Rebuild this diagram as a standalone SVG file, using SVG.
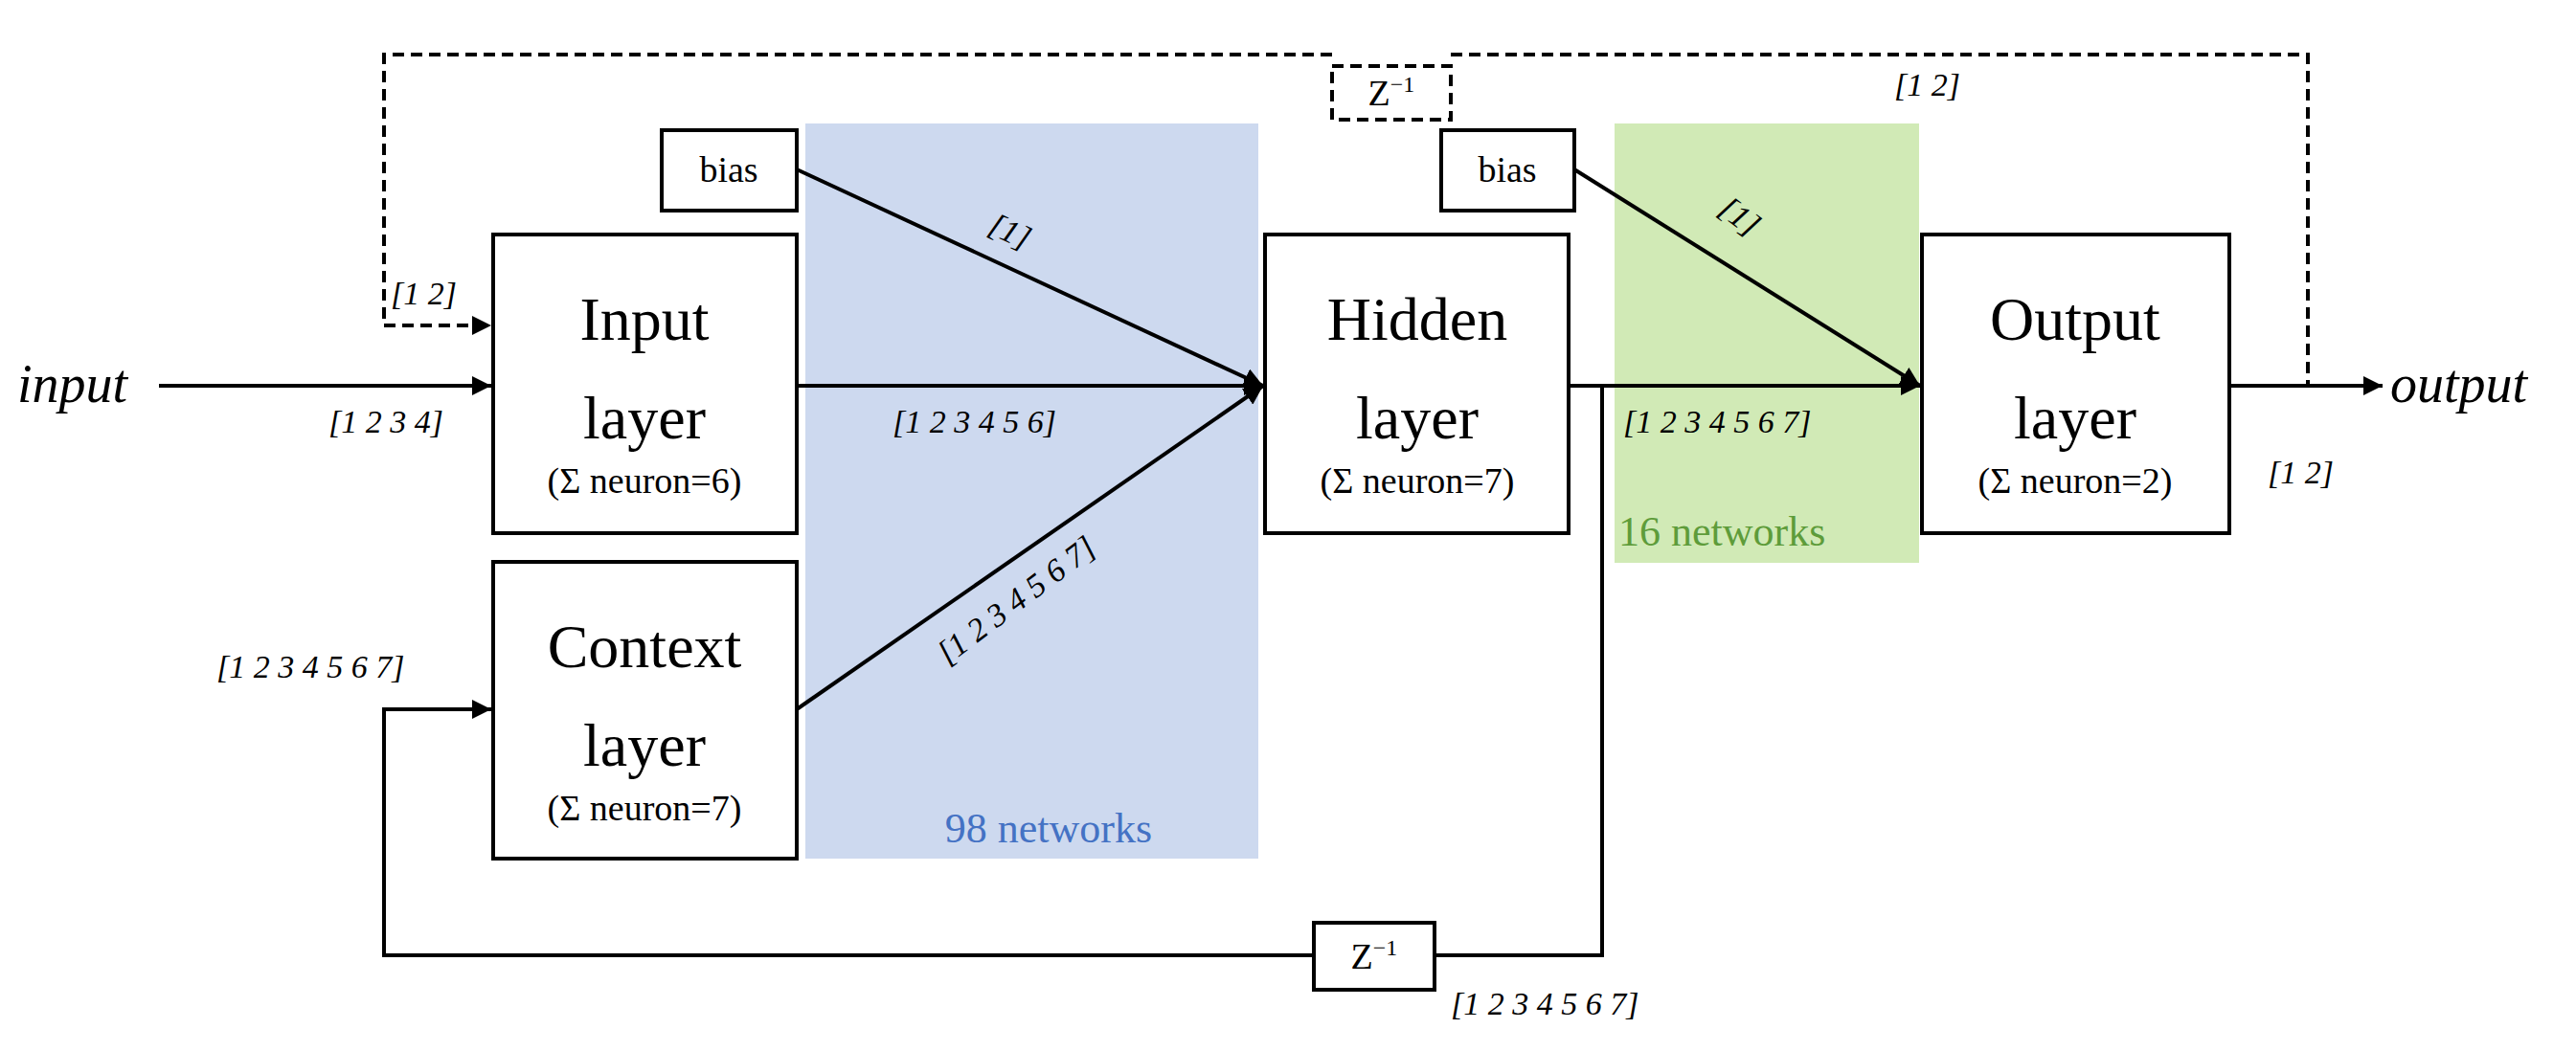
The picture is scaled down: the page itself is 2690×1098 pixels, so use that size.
<svg xmlns="http://www.w3.org/2000/svg" width="2690" height="1098" viewBox="0 0 2690 1098">
<style>
.b{fill:#fff;stroke:#000;stroke-width:4}
.t{font-family:"Liberation Serif",serif;fill:#000;text-anchor:middle}
.big{font-size:64px}
.sm{font-size:38px}
.lb{font-family:"Liberation Serif",serif;font-style:italic;font-size:34px;fill:#000}
.ln{fill:none;stroke:#000;stroke-width:4}
.d{stroke-dasharray:12 7}
</style>
<defs>
<marker id="a" viewBox="0 0 10 10" refX="10" refY="5" markerWidth="5" markerHeight="5" orient="auto" markerUnits="strokeWidth"><path d="M0,0L10,5L0,10z" fill="#000"/></marker>
</defs>
<rect x="841" y="129" width="473" height="768" fill="#CDD9EF"/>
<rect x="1686" y="129" width="318" height="459" fill="#D1EAB6"/>
<text x="1095" y="880" font-family="Liberation Serif,serif" font-size="44" fill="#4472C4" text-anchor="middle">98 networks</text>
<text x="1690" y="570" font-family="Liberation Serif,serif" font-size="44" fill="#5E9C3A">16 networks</text>
<g id="connectors">
<path class="ln d" d="M1391,57H401V340H513" marker-end="url(#a)"/>
<path class="ln d" d="M1515,57H2410V403"/>
<path class="ln" d="M166,403H513" marker-end="url(#a)"/>
<path class="ln" d="M832,403H1319" marker-end="url(#a)"/>
<path class="ln" d="M832,177L1319,403" marker-end="url(#a)"/>
<path class="ln" d="M832,741L1319,403" marker-end="url(#a)"/>
<path class="ln" d="M1638,403H2005" marker-end="url(#a)"/>
<path class="ln" d="M1644,177L2005,403" marker-end="url(#a)"/>
<path class="ln" d="M2328,403H2488" marker-end="url(#a)"/>
<path class="ln" d="M1673,403V998H1498"/>
<path class="ln" d="M1372,998H401V741H513" marker-end="url(#a)"/>
</g>
<g id="input-layer"><rect class="b" x="515" y="245" width="317" height="312"/>
<text class="t big" x="673" y="355">Input</text><text class="t big" x="673" y="458">layer</text><text class="t sm" x="673" y="515">(Σ neuron=6)</text></g>
<g id="context-layer"><rect class="b" x="515" y="587" width="317" height="310"/>
<text class="t big" x="673" y="697">Context</text><text class="t big" x="673" y="800">layer</text><text class="t sm" x="673" y="857">(Σ neuron=7)</text></g>
<g id="hidden-layer"><rect class="b" x="1321" y="245" width="317" height="312"/>
<text class="t big" x="1480" y="355">Hidden</text><text class="t big" x="1480" y="458">layer</text><text class="t sm" x="1480" y="515">(Σ neuron=7)</text></g>
<g id="output-layer"><rect class="b" x="2007" y="245" width="321" height="312"/>
<text class="t big" x="2167" y="355">Output</text><text class="t big" x="2167" y="458">layer</text><text class="t sm" x="2167" y="515">(Σ neuron=2)</text></g>
<g id="bias1"><rect class="b" x="691" y="136" width="141" height="84"/><text class="t sm" x="761" y="190">bias</text></g>
<g id="bias2"><rect class="b" x="1505" y="136" width="139" height="84"/><text class="t sm" x="1574" y="190">bias</text></g>
<g id="z1"><rect class="b d" x="1391" y="69" width="124" height="56"/><text class="t sm" x="1453" y="110">Z<tspan font-size="24" dy="-14">−1</tspan></text></g>
<g id="z2"><rect class="b" x="1372" y="964" width="126" height="70"/><text class="t sm" x="1435" y="1012">Z<tspan font-size="24" dy="-14">−1</tspan></text></g>
<text x="18" y="420" font-family="Liberation Serif,serif" font-style="italic" font-size="56">input</text>
<text x="2496" y="420" font-family="Liberation Serif,serif" font-style="italic" font-size="56">output</text>
<text class="lb" x="408" y="318">[1 2]</text>
<text class="lb" x="343" y="452">[1 2 3 4]</text>
<text class="lb" x="932" y="452">[1 2 3 4 5 6]</text>
<text class="lb" x="226" y="708">[1 2 3 4 5 6 7]</text>
<text class="lb" x="1695" y="452">[1 2 3 4 5 6 7]</text>
<text class="lb" x="1978" y="100">[1 2]</text>
<text class="lb" x="2368" y="505">[1 2]</text>
<text class="lb" x="1515" y="1060">[1 2 3 4 5 6 7]</text>
<text class="lb" text-anchor="middle" transform="translate(1050,252) rotate(25)">[1]</text>
<text class="lb" text-anchor="middle" transform="translate(1068,636) rotate(-37)">[1 2 3 4 5 6 7]</text>
<text class="lb" text-anchor="middle" transform="translate(1810,235) rotate(37)">[1]</text>
</svg>
